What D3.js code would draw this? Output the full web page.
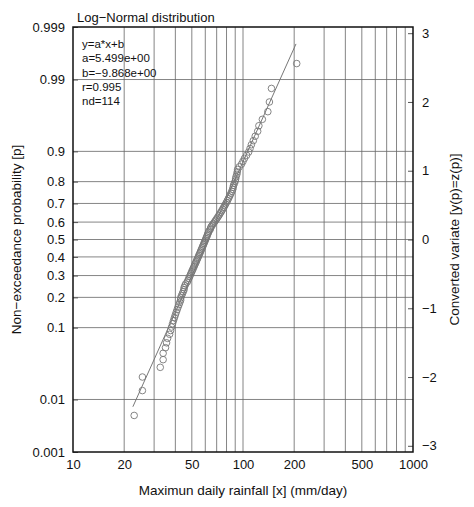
<!DOCTYPE html>
<html><head><meta charset="utf-8">
<script src="https://cdn.jsdelivr.net/npm/d3@7"></script>
<style>body{margin:0;background:#fff}text{font-family:"Liberation Sans",Arial,sans-serif;fill:#111}</style>
</head><body><div id="chart"></div>
<script>
// sorted annual maximum daily rainfall (mm/day)
const rainfall = [
  22.9, 25.6, 25.6, 32.6, 33.9, 33.9, 35, 35.5, 36, 37, 37.5, 38, 38.5, 39, 39.5, 40, 40.5, 41, 41.5, 42,
  42.5, 43, 43, 43.5, 44, 44.5, 45, 45, 45.5, 46,
  47, 47.5, 48, 48.5, 49, 49.5, 50, 50.5, 51, 51.5, 52, 52.5, 53, 53.5, 54, 54.5, 55, 55.5, 56, 56.5, 57, 57.5, 58, 58.5, 59, 59.5, 60,
  60.5, 61, 61.5, 62, 62.5, 63, 64, 64.5, 65, 66, 67, 68, 69, 70, 71, 72, 73, 74, 75, 76, 77, 78, 79,
  80, 81, 82, 83, 84, 85, 86, 87, 87.5, 88, 89, 90, 90.5, 91, 92, 92.5,
  93, 95, 98, 100, 102, 105, 108, 110, 112, 115, 118, 122, 124, 130, 140, 143, 147, 207
];
const fitA = 5.499, fitB = -9.868;
const fitRange = [22.5, 205];
const probTicks = [0.001, 0.01, 0.1, 0.2, 0.3, 0.4, 0.5, 0.6, 0.7, 0.8, 0.9, 0.99, 0.999];
const zTicks = [-3, -2, -1, 0, 1, 2, 3];
const xGrid = [20, 30, 40, 50, 60, 70, 80, 90, 100, 200, 300, 400, 500, 600, 700, 800, 900];
const xLabels = [10, 20, 50, 100, 200, 500, 1000];
const infoLines = ["y=a*x+b", "a=5.499e+00", "b=\u22129.868e+00", "r=0.995", "nd=114"];

const W = 474, H = 507, L = 73, R = 413, T = 27, B = 452;
const svg = d3.select("#chart").append("svg").attr("width", W).attr("height", H);
const x = d3.scaleLog().domain([10, 1000]).range([L, R]);
const zmax = 3.0902;
const y = d3.scaleLinear().domain([-zmax, zmax]).range([B, T]);

// inverse normal cdf (Acklam)
function qnorm(p) {
  const a = [-39.69683028665376, 220.9460984245205, -275.9285104469687, 138.357751867269, -30.66479806614716, 2.506628277459239];
  const b = [-54.47609879822406, 161.5858368580409, -155.6989798598866, 66.80131188771972, -13.28068155288572];
  const c = [-0.007784894002430293, -0.3223964580411365, -2.400758277161838, -2.549732539343734, 4.374664141464968, 2.938163982698783];
  const d = [0.007784695709041462, 0.3224671290700398, 2.445134137142996, 3.754408661907416];
  const pl = 0.02425;
  let q, r;
  if (p < pl) { q = Math.sqrt(-2 * Math.log(p)); return (((((c[0]*q+c[1])*q+c[2])*q+c[3])*q+c[4])*q+c[5])/((((d[0]*q+d[1])*q+d[2])*q+d[3])*q+1); }
  if (p > 1 - pl) { q = Math.sqrt(-2 * Math.log(1 - p)); return -(((((c[0]*q+c[1])*q+c[2])*q+c[3])*q+c[4])*q+c[5])/((((d[0]*q+d[1])*q+d[2])*q+d[3])*q+1); }
  q = p - 0.5; r = q * q;
  return (((((a[0]*r+a[1])*r+a[2])*r+a[3])*r+a[4])*r+a[5])*q/(((((b[0]*r+b[1])*r+b[2])*r+b[3])*r+b[4])*r+1);
}

// grid
svg.append("g").selectAll("line").data(xGrid).join("line")
  .attr("x1", d => x(d)).attr("x2", d => x(d)).attr("y1", T).attr("y2", B)
  .attr("stroke", "#666").attr("stroke-width", 0.8);
svg.append("g").selectAll("line").data(probTicks.filter(p => p > 0.001 && p < 0.999)).join("line")
  .attr("x1", L).attr("x2", R).attr("y1", d => y(qnorm(d))).attr("y2", d => y(qnorm(d)))
  .attr("stroke", "#666").attr("stroke-width", 0.8);

// left axis: probability
svg.append("g").attr("transform", `translate(${L},0)`)
  .call(d3.axisLeft(y).tickValues(probTicks.map(qnorm)).tickSize(-5).tickPadding(8)
    .tickFormat((d, i) => probTicks[i]))
  .call(g => g.select(".domain").remove())
  .call(g => g.selectAll("line").attr("stroke", "#555"))
  .call(g => g.selectAll("text").attr("font-size", 13).attr("fill", "#111"));
// right axis: z
svg.append("g").attr("transform", `translate(${R},0)`)
  .call(d3.axisRight(y).tickValues(zTicks).tickSize(-5).tickPadding(9).tickFormat(d => d < 0 ? "\u2212" + (-d) : d))
  .call(g => g.select(".domain").remove())
  .call(g => g.selectAll("line").attr("stroke", "#555"))
  .call(g => g.selectAll("text").attr("font-size", 13).attr("fill", "#111"));
// bottom axis
svg.append("g").attr("transform", `translate(0,${B})`)
  .call(d3.axisBottom(x).tickValues(xLabels).tickSize(0).tickPadding(8).tickFormat(d3.format("d")))
  .call(g => g.select(".domain").remove())
  .call(g => g.selectAll("text").attr("font-size", 13).attr("fill", "#111"));

svg.append("rect").attr("x", L).attr("y", T).attr("width", R - L).attr("height", B - T)
  .attr("fill", "none").attr("stroke", "#111").attr("stroke-width", 1.5);

// fitted line
const fitLine = d3.line().x(d => x(d)).y(d => y(fitA * Math.log10(d) + fitB));
svg.append("path").datum(fitRange).attr("d", fitLine).attr("stroke", "#777").attr("stroke-width", 1).attr("fill", "none");

// points (Cunnane plotting position)
const n = rainfall.length;
svg.append("g").selectAll("circle").data(rainfall).join("circle")
  .attr("cx", d => x(d)).attr("cy", (d, i) => y(qnorm((i + 1 - 0.4) / (n + 0.2))))
  .attr("r", 3.3).attr("fill", "none").attr("stroke", "#777").attr("stroke-width", 0.9);

// texts
svg.append("text").attr("x", L + 4).attr("y", 22).attr("font-size", 13).text("Log\u2212Normal distribution");
svg.append("g").selectAll("text").data(infoLines).join("text")
  .attr("x", L + 9).attr("y", (d, i) => 48 + i * 14.3).attr("font-size", 11.5).text(d => d);
svg.append("text").attr("x", (L + R) / 2).attr("y", 495).attr("text-anchor", "middle").attr("font-size", 13.5)
  .text("Maximun daily rainfall [x] (mm/day)");
svg.append("text").attr("transform", `translate(21,${(T + B) / 2}) rotate(-90)`).attr("text-anchor", "middle")
  .attr("font-size", 13.5).text("Non\u2212exceedance probability [p]");
svg.append("text").attr("transform", `translate(459,${(T + B) / 2}) rotate(-90)`).attr("text-anchor", "middle")
  .attr("font-size", 13.5).text("Converted variate [y(p)=z(p)]");
</script></body></html>
